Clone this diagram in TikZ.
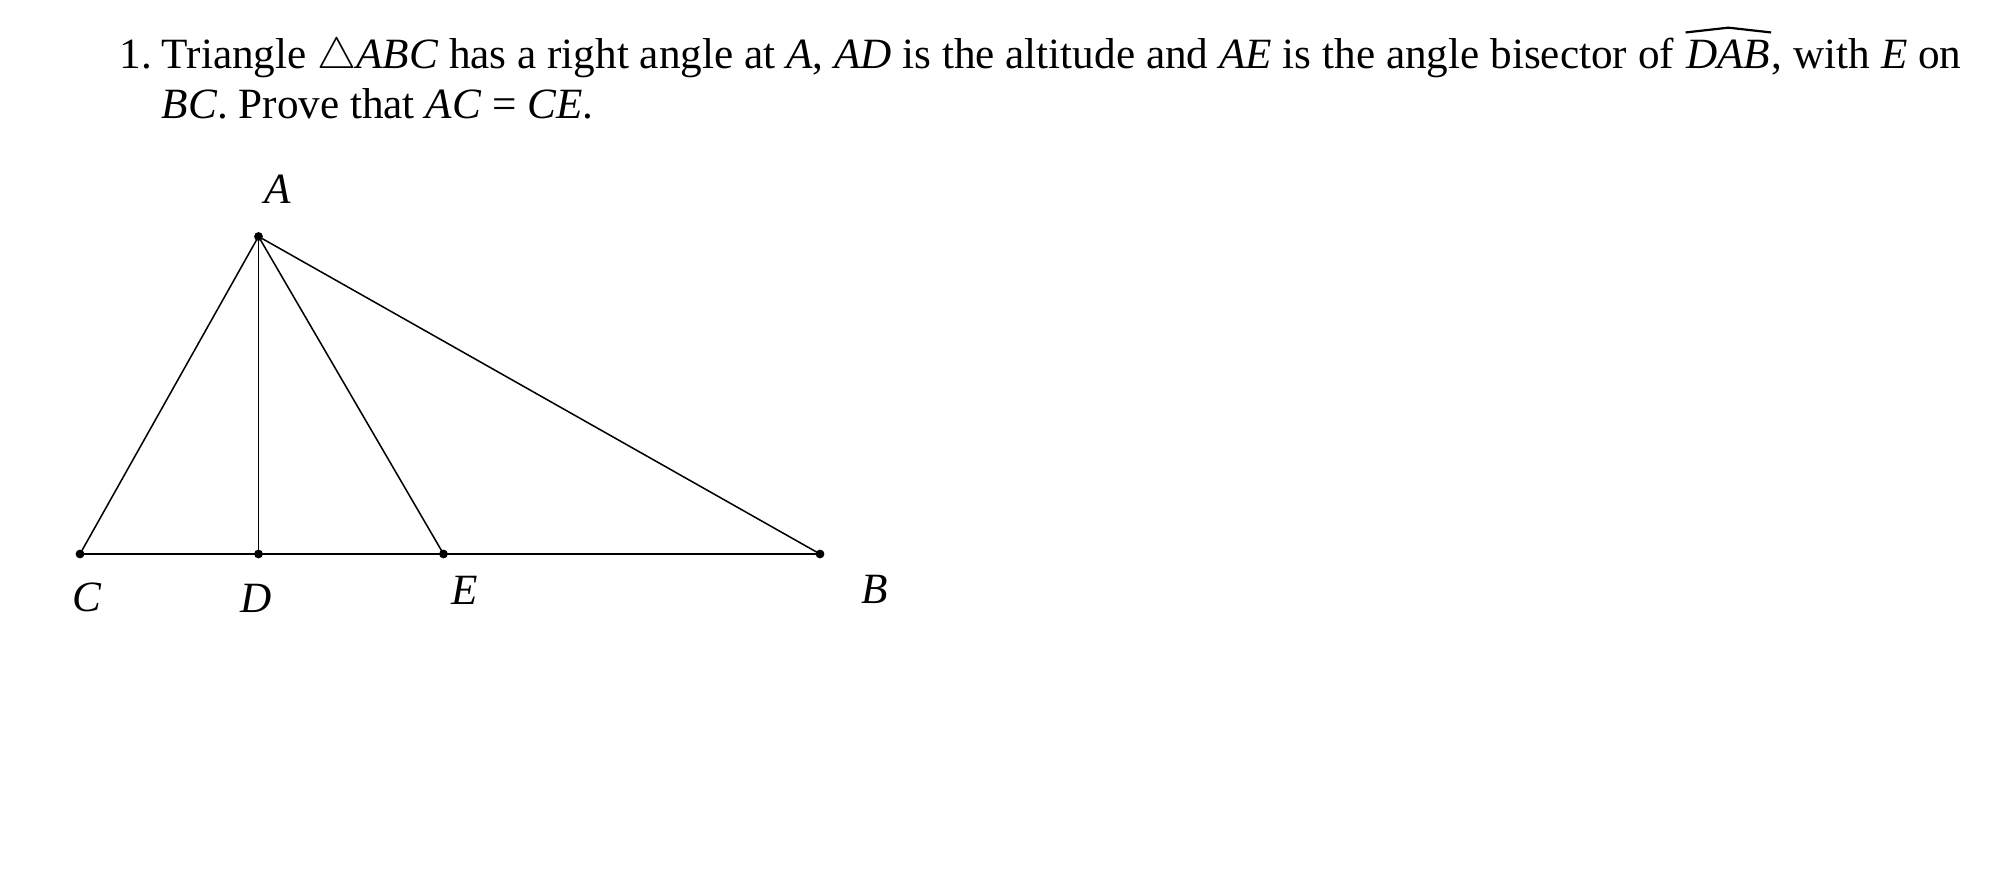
\documentclass[tikz,border=0pt]{standalone}
\usepackage{fontspec}
\setmainfont{Liberation Serif}

\begin{document}
\begin{tikzpicture}[x=0.25pt, y=-0.25pt,
	dot/.style={shape=circle, fill=black, inner sep=0pt, minimum size=2.2pt},
	side/.style={line width=0.38pt},
	ptlabel/.style={anchor=base, inner sep=0pt, font=\fontsize{10.8}{12.5}\selectfont},
	qtext/.style={anchor=base west, inner sep=0pt, font=\fontsize{10.8}{12.5}\selectfont}]
	\useasboundingbox[fill=white] (0, 0) rectangle (2002, 884);
	% Question text:
	\node[qtext] (qnum) at (119, 69){1.};
	\node[qtext] (qline1) at (161, 69){Triangle $\triangle$\textit{ABC} has a right angle at \textit{A}, \textit{AD} is the altitude and \textit{AE} is the angle bisector of};
	\node[qtext, xshift=2.7pt] (qdab) at (qline1.base east){\textit{DAB}};
	\node[qtext] (qline1end) at (qdab.base east){, with \textit{E} on};
	\draw[line width=0.55pt] ([yshift=1.8pt]qdab.north west) -- ([yshift=3pt]qdab.north) -- ([yshift=1.8pt]qdab.north east);
	\node[qtext] (qline2) at (161, 119){\textit{BC}. Prove that \textit{AC} = \textit{CE}.};
	% Points and sides:
	\node[dot] (A) at (258.5, 236.5){};
	\node[dot] (C) at (80, 554){};
	\node[dot] (D) at (258.5, 554){};
	\node[dot] (E) at (443.5, 554){};
	\node[dot] (B) at (820, 554){};
	\draw[side] (A.center) -- (C.center);
	\draw[side] (A.center) -- (D.center);
	\draw[side] (A.center) -- (E.center);
	\draw[side] (A.center) -- (B.center);
	\draw[side, line width=0.48pt] (C.center) -- (B.center);
	\node[ptlabel] (labA) at (277.5, 204){\textit{A}};
	\node[ptlabel] (labC) at (87, 612){\textit{C}};
	\node[ptlabel] (labD) at (256.5, 613){\textit{D}};
	\node[ptlabel] (labE) at (465, 605){\textit{E}};
	\node[ptlabel] (labB) at (875, 604){\textit{B}};
\end{tikzpicture}
\end{document}
